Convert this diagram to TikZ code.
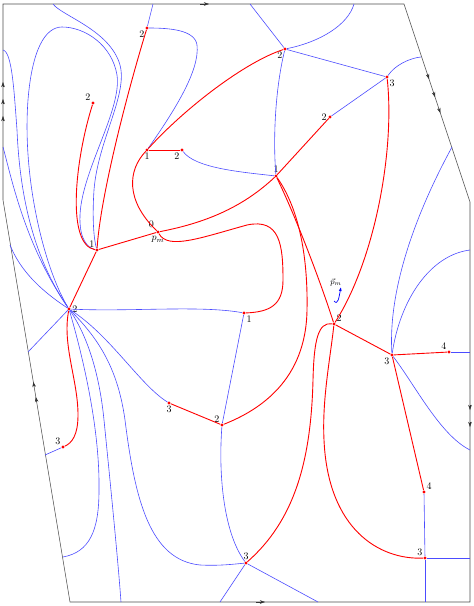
\documentclass[tikz,border=0pt]{standalone}
\usepackage{amsmath,amssymb}
\usetikzlibrary{arrows.meta}

\begin{document}
\begin{tikzpicture}
	[x=1pt,y=-1pt,
	 dot/.style={circle,fill=red,inner sep=0pt,minimum size=3.4pt},
	 lbl/.style={inner sep=1.2pt},
	 rline/.style={red,line width=0.9pt},
	 bline/.style={blue!70,line width=0.6pt},
	 rim/.style={black!70,line width=0.55pt},
	 tip/.style={black!80,-{Stealth[length=5pt,width=3.5pt]}}]
	\useasboundingbox (0,0) rectangle (474,606);
	
	% outer rim and its arrows
	\draw[rim] (3,4) -- (404,4) -- (470,202) -- (470,602) -- (70,602) -- (3,200) -- cycle;
	\draw[tip] (200,4) -- (209,4);
	\draw[tip] (256,602) -- (265,602);
	\foreach \y in {82,99,116} \draw[tip] (3,\y+5) -- (3,\y);
	\foreach \y in {410,427} \draw[tip] (470,\y-5) -- (470,\y);
	\foreach \y in {79,97,113} \draw[tip] ({404+66*(\y-9)/198},\y-5) -- ({404+66*(\y-4)/198},\y);
	\foreach \y in {382,397} \draw[tip] ({3+67*(\y-195)/402},\y+5) -- ({3+67*(\y-200)/402},\y);
	
	% points
	\node[dot,label={[lbl]below left:$2$}] (A) at (147,28) {};
	\node[dot,label={[lbl]above left:$2$}] (B) at (93,103) {};
	\node[dot,label={[lbl]below:$1$}] (C) at (147,150) {};
	\node[dot,label={[lbl]below left:$2$}] (D) at (182,150) {};
	\node[dot,label={[lbl,label distance=2pt]above left:$0$},label={[lbl,label distance=1pt]below:$p_m$}] (E) at (158,232) {};
	\node[dot,label={[lbl]above left:$1$}] (F) at (97,250) {};
	\node[dot,label={[lbl]right:$2$}] (G) at (69,309) {};
	\node[dot,label={[lbl]below left:$2$}] (H) at (285,49) {};
	\node[dot,label={[lbl]below right:$3$}] (I) at (387,77) {};
	\node[dot,label={[lbl]left:$2$}] (J) at (330,117) {};
	\node[dot,label={[lbl]above:$1$}] (K) at (276,176) {};
	\node[dot,label={[lbl]below right:$1$}] (L) at (244,313) {};
	\node[dot,label={[lbl]above right:$2$}] (M) at (334,324) {};
	\node[dot,label={[lbl]below left:$3$}] (N) at (392,355) {};
	\node[dot,label={[lbl]above left:$4$}] (O) at (449,352) {};
	\node[dot,label={[lbl]below:$3$}] (P) at (169,403) {};
	\node[dot,label={[lbl]above left:$2$}] (Q) at (222,425) {};
	\node[dot,label={[lbl]above left:$3$}] (R) at (63,447) {};
	\node[dot,label={[lbl]above right:$4$}] (S) at (424,492) {};
	\node[dot,label={[lbl]above left:$3$}] (T) at (425,558) {};
	\node[dot,label={[lbl]above:$3$}] (U) at (246,563) {};
	
	% free ends on the rim
	\coordinate (e1) at (53,4);
	\coordinate (e2) at (153,4);
	\coordinate (e3) at (250,4);
	\coordinate (e4) at (354,4);
	\coordinate (e5) at (421,57);
	\coordinate (e6) at (452,147);
	\coordinate (e7) at (470,250);
	\coordinate (e8) at (470,352);
	\coordinate (e9) at (470,450);
	\coordinate (e10) at (470,558);
	\coordinate (e11) at (425,602);
	\coordinate (e12) at (318,602);
	\coordinate (e13) at (220,602);
	\coordinate (e14) at (121,602);
	\coordinate (e15) at (63,557);
	\coordinate (e16) at (45,455);
	\coordinate (e17) at (28,352);
	\coordinate (e18) at (10,245);
	\coordinate (e19) at (3,147);
	\coordinate (e20) at (3,50);
	
	% blue lines
	\foreach \from/\to in {A/e2,H/e3,I/H,I/J,L/Q,S/T,T/e10,T/e11,O/e8,U/e12,U/e13,G/e17,R/e16}
	\draw[bline] (\from) -- (\to);
	\draw[bline] (e1) .. controls (62,16) and (110,30) .. (120,65) .. controls (128,95) and (98,140) .. (94,190) .. controls (92,220) and (94,240) .. (F);
	\draw[bline] (G) .. controls (45,270) and (22,180) .. (28,100) .. controls (32,50) and (45,27) .. (62,27) .. controls (85,27) and (112,45) .. (117,75) .. controls (122,110) and (82,170) .. (80,215) .. controls (79,240) and (88,248) .. (F);
	\draw[bline] (e20) .. controls (12,52) and (14,90) .. (17,130) .. controls (20,200) and (35,260) .. (G);
	\draw[bline] (e19) .. controls (12,180) and (25,245) .. (G);
	\draw[bline] (e18) .. controls (20,270) and (40,290) .. (G);
	\draw[bline] (G) .. controls (78,340) and (100,420) .. (99,490) .. controls (99,530) and (90,552) .. (e15);
	\draw[bline] (G) .. controls (90,340) and (100,380) .. (104,420) .. controls (110,480) and (118,560) .. (e14);
	\draw[bline] (G) .. controls (100,340) and (118,370) .. (125,420) .. controls (135,500) and (150,560) .. (200,565) .. controls (220,566) and (235,564) .. (U);
	\draw[bline] (G) .. controls (110,335) and (140,385) .. (P);
	\draw[bline] (G) .. controls (130,312) and (200,305) .. (L);
	\draw[bline] (Q) .. controls (218,480) and (225,535) .. (U);
	\draw[bline] (N) .. controls (415,385) and (440,435) .. (e9);
	\draw[bline] (N) .. controls (400,300) and (430,255) .. (e7);
	\draw[bline] (N) .. controls (388,290) and (415,215) .. (e6);
	\draw[bline] (I) .. controls (395,65) and (410,58) .. (e5);
	\draw[bline] (H) .. controls (320,42) and (348,25) .. (e4);
	\draw[bline] (H) .. controls (275,90) and (273,140) .. (K);
	\draw[bline] (D) .. controls (195,168) and (240,172) .. (K);
	\draw[bline] (C) .. controls (175,110) and (200,70) .. (197,45) .. controls (195,30) and (170,28) .. (A);
	
	% red lines
	\foreach \from/\to in {C/D,F/E,F/G,J/K,M/N,N/O,N/S,Q/P}
	\draw[rline] (\from) -- (\to);
	\draw[rline] (A) .. controls (125,100) and (100,200) .. (F);
	\draw[rline] (B) .. controls (75,160) and (66,245) .. (F);
	\draw[rline] (E) .. controls (210,222) and (245,205) .. (K);
	\draw[rline] (C) .. controls (128,170) and (125,200) .. (E);
	\draw[rline] (E) .. controls (168,250) and (200,238) .. (247,225) .. controls (280,218) and (283,245) .. (283,280) .. controls (283,305) and (270,312) .. (L);
	\draw[rline] (C) .. controls (185,108) and (245,62) .. (H);
	\draw[rline] (I) .. controls (395,150) and (375,260) .. (M);
	\draw[rline] (K) .. controls (300,210) and (308,260) .. (307,310) .. controls (306,380) and (260,410) .. (Q);
	\draw[rline] (K) .. controls (295,215) and (320,280) .. (M);
	\draw[rline] (M) .. controls (318,322) and (314,340) .. (313,380) .. controls (311,460) and (295,520) .. (U);
	\draw[rline] (M) .. controls (330,360) and (322,400) .. (324,440) .. controls (328,530) and (380,560) .. (T);
	\draw[rline] (G) .. controls (62,345) and (78,380) .. (78,415) .. controls (78,435) and (72,443) .. (R);
	
	% direction of p_m
	\coordinate (v0) at (334,301);
	\coordinate (v1) at (341,287);
	\node[font=\footnotesize] (vp) at (336,282) {$\vec{p}_m$};
	\draw[blue,line width=0.7pt,-{Latex[length=4pt]}] (v0) .. controls (338,306) and (339,297) .. (v1);
	
\end{tikzpicture}
\end{document}
